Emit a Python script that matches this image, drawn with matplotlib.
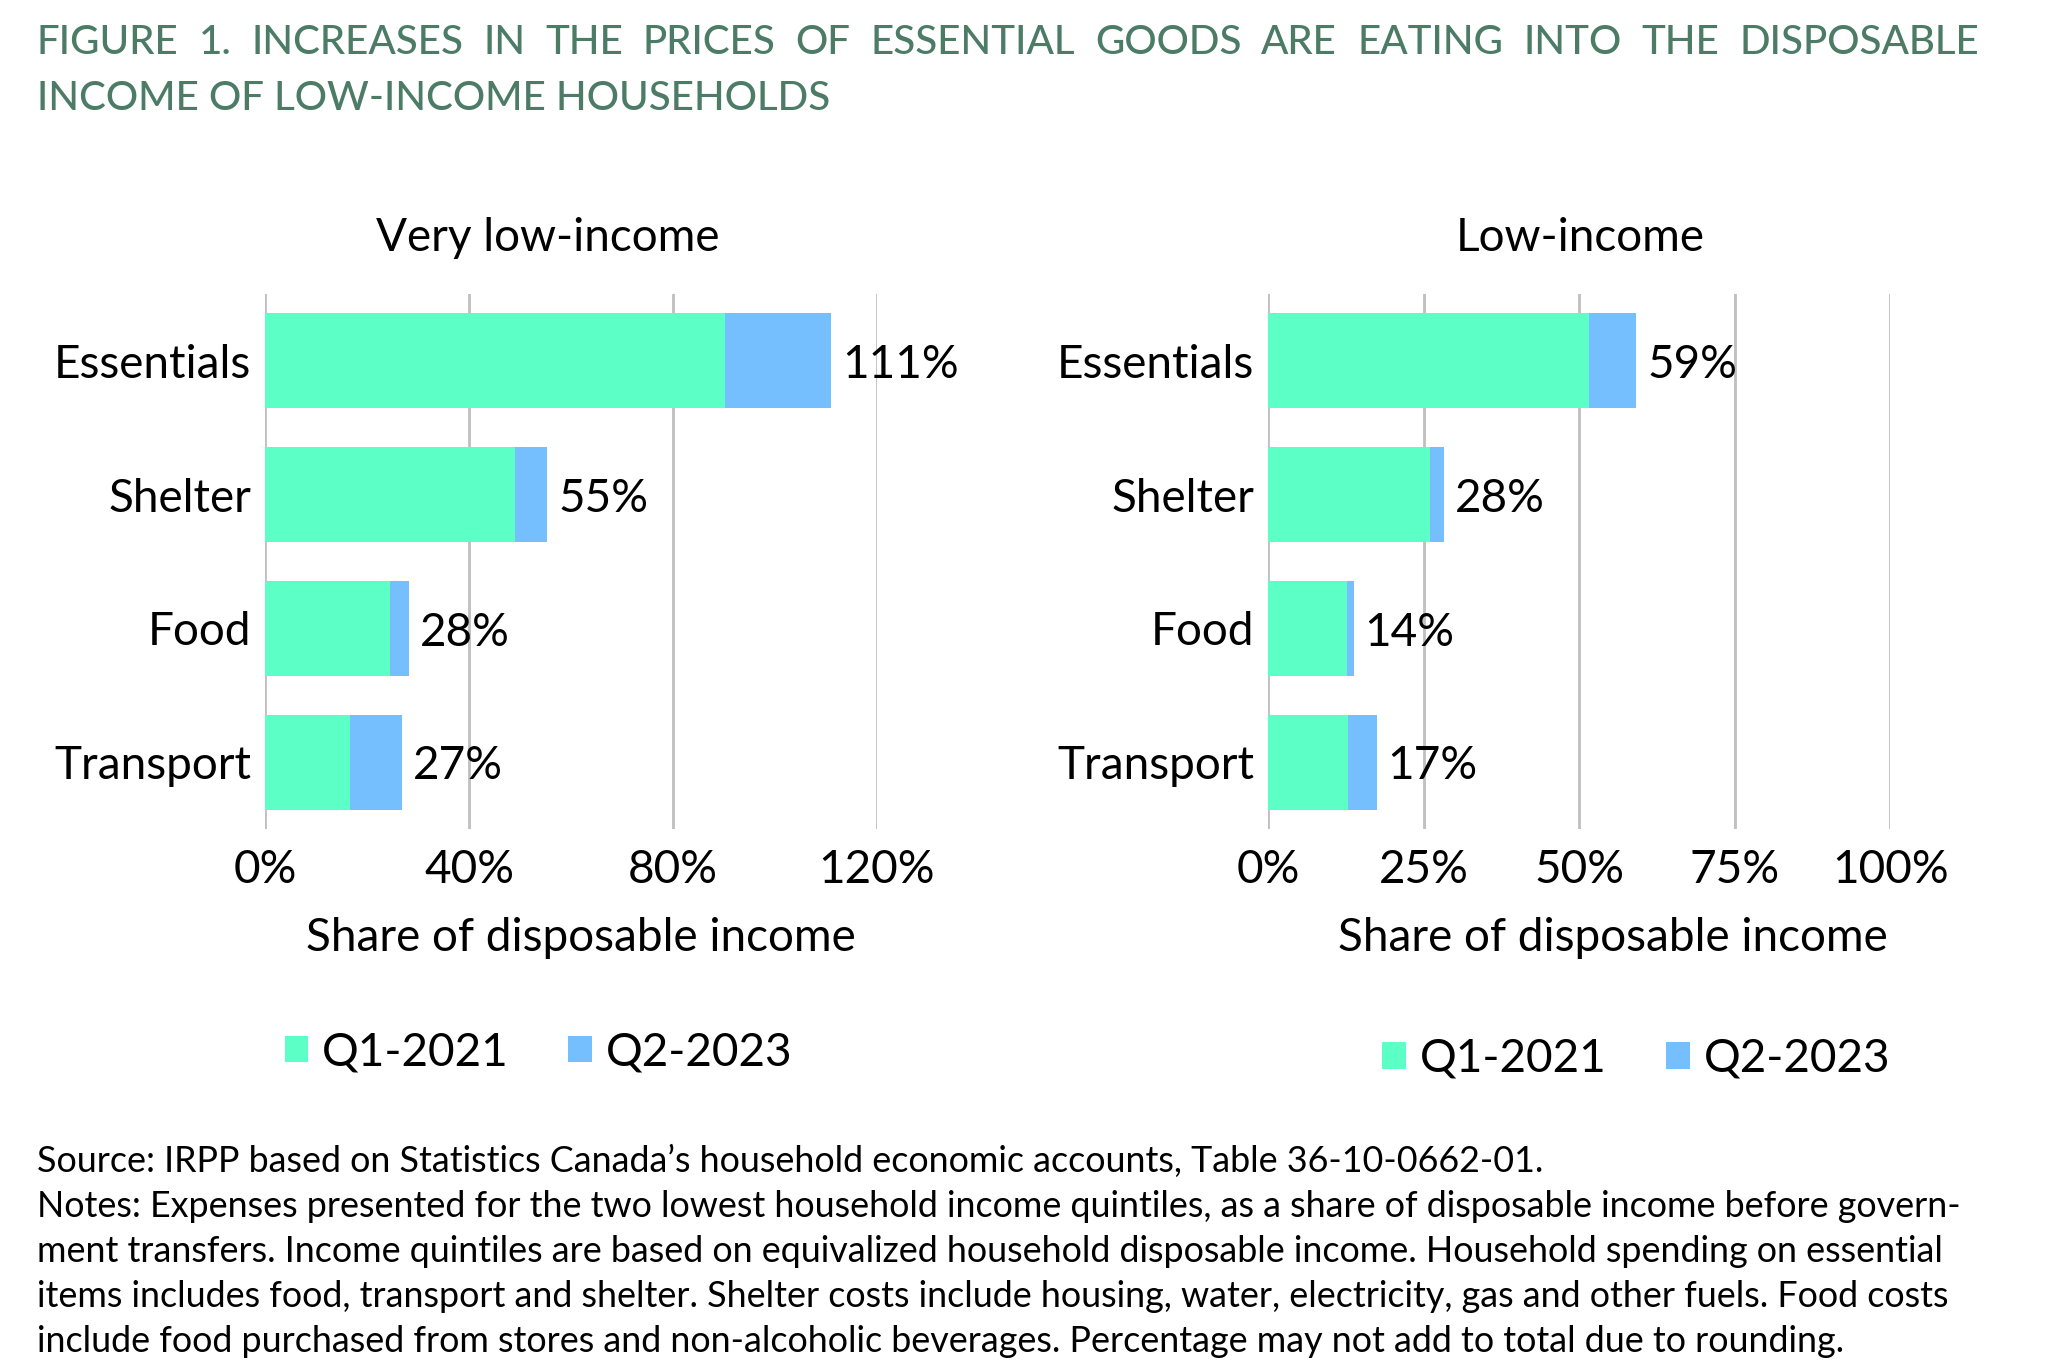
import matplotlib
matplotlib.use("Agg")
import matplotlib.pyplot as plt
from matplotlib.patches import Patch

plt.rcParams['font.family'] = ['Lato', 'DejaVu Sans']

# data (share of disposable income, %)
categories = ["Essentials", "Shelter", "Food", "Transport"]
very_low_q1 = [90.3, 49.0, 24.4, 16.7]
very_low_q2 = [111.0, 55.4, 28.2, 26.9]
very_low_labels = ["111%", "55%", "28%", "27%"]
low_q1 = [51.5, 26.0, 12.6, 12.8]
low_q2 = [59.2, 28.2, 13.7, 17.4]
low_labels = ["59%", "28%", "14%", "17%"]
very_low_ticks = [0, 40, 80, 120]
low_ticks = [0, 25, 50, 75, 100]

color_q1 = '#5CFFC6'
color_q2 = '#75BFFF'
title_color = '#4C7C66'
grid_color = '#BFBFBF'
FS = 33

fig = plt.figure(figsize=(20.48, 13.71), dpi=100)
ax_left = fig.add_axes([0.1295, 0.3952, 0.2985, 0.3905])
ax_right = fig.add_axes([0.6193, 0.3952, 0.3036, 0.3905])


def draw_panel(ax, q1, q2, labels, ticks):
    ypos = list(range(len(categories)))
    # Q2-2023 total behind, Q1-2021 in front
    ax.barh(ypos, q2, height=0.71, color=color_q2, zorder=2)
    ax.barh(ypos, q1, height=0.71, color=color_q1, zorder=3)
    for y, v, lab in zip(ypos, q2, labels):
        ax.annotate(lab, (v, y), xytext=(8, -3), textcoords='offset points',
                    ha='left', va='center', fontsize=FS, color='black', zorder=4)
    ax.set_xlim(0, ticks[-1])
    ax.set_ylim(len(categories) - 0.5, -0.5)
    ax.set_xticks(ticks)
    ax.set_xticklabels([f"{t}%" for t in ticks], fontsize=FS)
    ax.set_yticks(ypos)
    ax.set_yticklabels(categories, fontsize=FS)
    ax.tick_params(axis='both', length=0)
    ax.tick_params(axis='x', pad=14)
    ax.tick_params(axis='y', pad=10)
    ax.grid(axis='x', color=grid_color, linewidth=2, zorder=1)
    for s in ax.spines.values():
        s.set_visible(False)


draw_panel(ax_left, very_low_q1, very_low_q2, very_low_labels, very_low_ticks)
draw_panel(ax_right, low_q1, low_q2, low_labels, low_ticks)

fig.text(0.2675, 0.8262, "Very low-income", ha='center', va='center', fontsize=FS)
fig.text(0.7717, 0.8262, "Low-income", ha='center', va='center', fontsize=FS)
fig.text(0.2838, 0.3160, "Share of disposable income", ha='center', va='center', fontsize=FS)
fig.text(0.7876, 0.3160, "Share of disposable income", ha='center', va='center', fontsize=FS)

handles = [Patch(facecolor=color_q1, label="Q1-2021"),
           Patch(facecolor=color_q2, label="Q2-2023")]
for cx, cy in [(0.263, 0.2324), (0.799, 0.2276)]:
    fig.legend(handles=handles, loc='center', bbox_to_anchor=(cx, cy), ncol=2,
               frameon=False, fontsize=FS, handlelength=0.52, handleheight=0.52,
               handletextpad=0.3, columnspacing=1.3, borderpad=0)

# justified title, first line stretched across the width
title_lines = ["FIGURE 1. INCREASES IN THE PRICES OF ESSENTIAL GOODS ARE EATING INTO THE DISPOSABLE",
               "INCOME OF LOW-INCOME HOUSEHOLDS"]
x0, x1 = 0.0179, 0.9662
renderer = fig.canvas.get_renderer()
fig_w = fig.bbox.width
words = title_lines[0].split()
texts = [fig.text(x0, 0.9690, w, fontsize=29, fontweight='medium', color=title_color,
                  va='center', ha='left') for w in words]
widths = [t.get_window_extent(renderer).width / fig_w for t in texts]
gap = (x1 - x0 - sum(widths)) / (len(words) - 1)
x = x0
for t, w in zip(texts, widths):
    t.set_x(x)
    x += w + gap
fig.text(x0, 0.9285, title_lines[1], fontsize=29, fontweight='medium', color=title_color,
         va='center', ha='left')

notes = [
    "Source: IRPP based on Statistics Canada\u2019s household economic accounts, Table 36-10-0662-01.",
    "Notes: Expenses presented for the two lowest household income quintiles, as a share of disposable income before govern-",
    "ment transfers. Income quintiles are based on equivalized household disposable income. Household spending on essential",
    "items includes food, transport and shelter. Shelter costs include housing, water, electricity, gas and other fuels. Food costs",
    "include food purchased from stores and non-alcoholic beverages. Percentage may not add to total due to rounding.",
]
for i, line in enumerate(notes):
    fig.text(x0, 0.1530 - i * 0.0329, line, fontsize=25.8, va='center', ha='left', color='black')

fig.savefig("out.png", dpi=100, facecolor='white')
